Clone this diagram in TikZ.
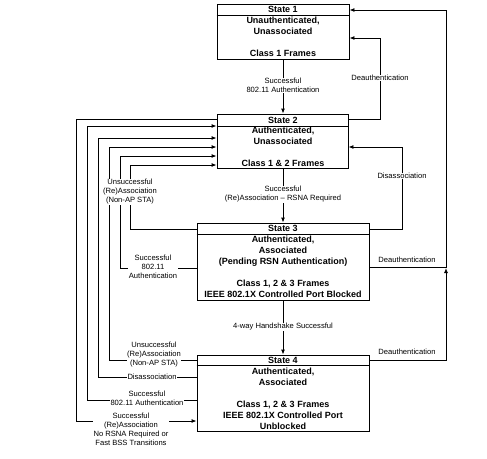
\documentclass[tikz,border=0pt]{standalone}
\usepackage{fontspec}
\setmainfont{Liberation Sans}
\usetikzlibrary{arrows.meta}
\begin{document}
\begin{tikzpicture}[x=1pt,y=-1pt,
  stbox/.style={draw,line width=0.9pt,inner sep=0pt},
  hline/.style={line width=0.9pt},
  hdr/.style={inner sep=0pt,font=\fontsize{9}{11}\selectfont\bfseries},
  body/.style={inner sep=0pt,align=center,font=\fontsize{9}{11}\selectfont\bfseries},
  lbl/.style={inner sep=0.6pt,align=center,font=\fontsize{7.6}{9}\selectfont},
  wl/.style={lbl,fill=white},
  conn/.style={line width=0.9pt,-{Latex[length=5pt,width=4pt]}},
  plain/.style={line width=0.9pt}]
\useasboundingbox (0,0) rectangle (487,458);

% State 1
\node[stbox,minimum width=132pt,minimum height=55pt] (s1) at (283,31.5) {};
\draw[hline] (s1.west |- 0,15) -- (s1.east |- 0,15);
\node[hdr] (s1h) at (283,9.5) {State 1};
\node[body] (s1b) at (283,36.5) {Unauthenticated,\\Unassociated\\[11pt]Class 1 Frames};

% State 2
\node[stbox,minimum width=131pt,minimum height=54pt] (s2) at (282.5,141) {};
\draw[hline] (s2.west |- 0,126) -- (s2.east |- 0,126);
\node[hdr] (s2h) at (283,120) {State 2};
\node[body] (s2b) at (283,146.5) {Authenticated,\\Unassociated\\[11pt]Class 1 \& 2 Frames};

% State 3
\node[stbox,minimum width=172pt,minimum height=77pt] (s3) at (283,261.5) {};
\draw[hline] (s3.west |- 0,234) -- (s3.east |- 0,234);
\node[hdr] (s3h) at (283,228.5) {State 3};
\node[body] (s3b) at (283,266.5) {Authenticated,\\Associated\\(Pending RSN Authentication)\\[11pt]Class 1, 2 \& 3 Frames\\IEEE 802.1X Controlled Port Blocked};

% State 4
\node[stbox,minimum width=172pt,minimum height=76pt] (s4) at (283,393) {};
\draw[hline] (s4.west |- 0,365) -- (s4.east |- 0,365);
\node[hdr] (s4h) at (283,360) {State 4};
\node[body] (s4b) at (283,398.5) {Authenticated,\\Associated\\[11pt]Class 1, 2 \& 3 Frames\\IEEE 802.1X Controlled Port\\Unblocked};

% vertical main transitions
\draw[conn] (s1.south -| 283,0) -- (s2.north -| 283,0);
\draw[conn] (s2.south -| 283,0) -- (s3.north -| 283,0);
\draw[conn] (s3.south -| 283,0) -- (s4.north -| 283,0);
\node[wl] (l12) at (283,85.5) {Successful\\802.11 Authentication};
\node[wl] (l23) at (283,194.5) {Successful\\(Re)Association -- RSNA Required};
\node[wl] (l34) at (283,327) {4-way Handshake Successful};

% right side
\draw[conn] (s2.east |- 0,119) -- (380,119) -- (380,38) -- (s1.east |- 0,38);
\node[wl] (rd1) at (380,78) {Deauthentication};
\draw[conn] (s3.east |- 0,229) -- (402,229) -- (402,147) -- (s2.east |- 0,147);
\node[wl] (rd2) at (402,176) {Disassociation};
\draw[conn] (s3.east |- 0,267) -- (446,267) -- (446,10) -- (s1.east |- 0,10);
\node[lbl] (rd3) at (407,260) {Deauthentication};
\coordinate (jn) at (446,268);
\draw[conn] (s4.east |- 0,360) -| (jn);
\node[lbl] (rd4) at (407,352) {Deauthentication};

% left side
\draw[conn] (s2.west |- 0,119) -- (76,119) -- (76,421) -- (s4.west |- 0,421);
\node[wl,anchor=north] (ll1) at (131,412.5) {Successful\\(Re)Association\\No RSNA Required or\\Fast BSS Transitions};
\draw[conn] (s4.west |- 0,400) -- (87,400) -- (87,126) -- (s2.west |- 0,126);
\node[wl] (ll2) at (147,398.5) {Successful\\802.11 Authentication};
\draw[conn] (s4.west |- 0,377) -- (98,377) -- (98,138) -- (s2.west |- 0,138);
\node[wl] (ll3) at (152,377) {Disassociation};
\draw[conn] (s4.west |- 0,360) -- (109,360) -- (109,147) -- (s2.west |- 0,147);
\node[wl] (ll4) at (154,355) {Unsuccessful\\(Re)Association\\(Non-AP STA)};
\draw[conn] (s3.west |- 0,268) -- (120,268) -- (120,156) -- (s2.west |- 0,156);
\node[wl] (ll5) at (153,267) {Successful\\802.11\\Authentication};
\draw[conn] (s3.west |- 0,229) -- (130,229) -- (130,165) -- (s2.west |- 0,165);
\node[wl] (ll6) at (130,192) {Unsuccessful\\(Re)Association\\(Non-AP STA)};
\end{tikzpicture}
\end{document}
